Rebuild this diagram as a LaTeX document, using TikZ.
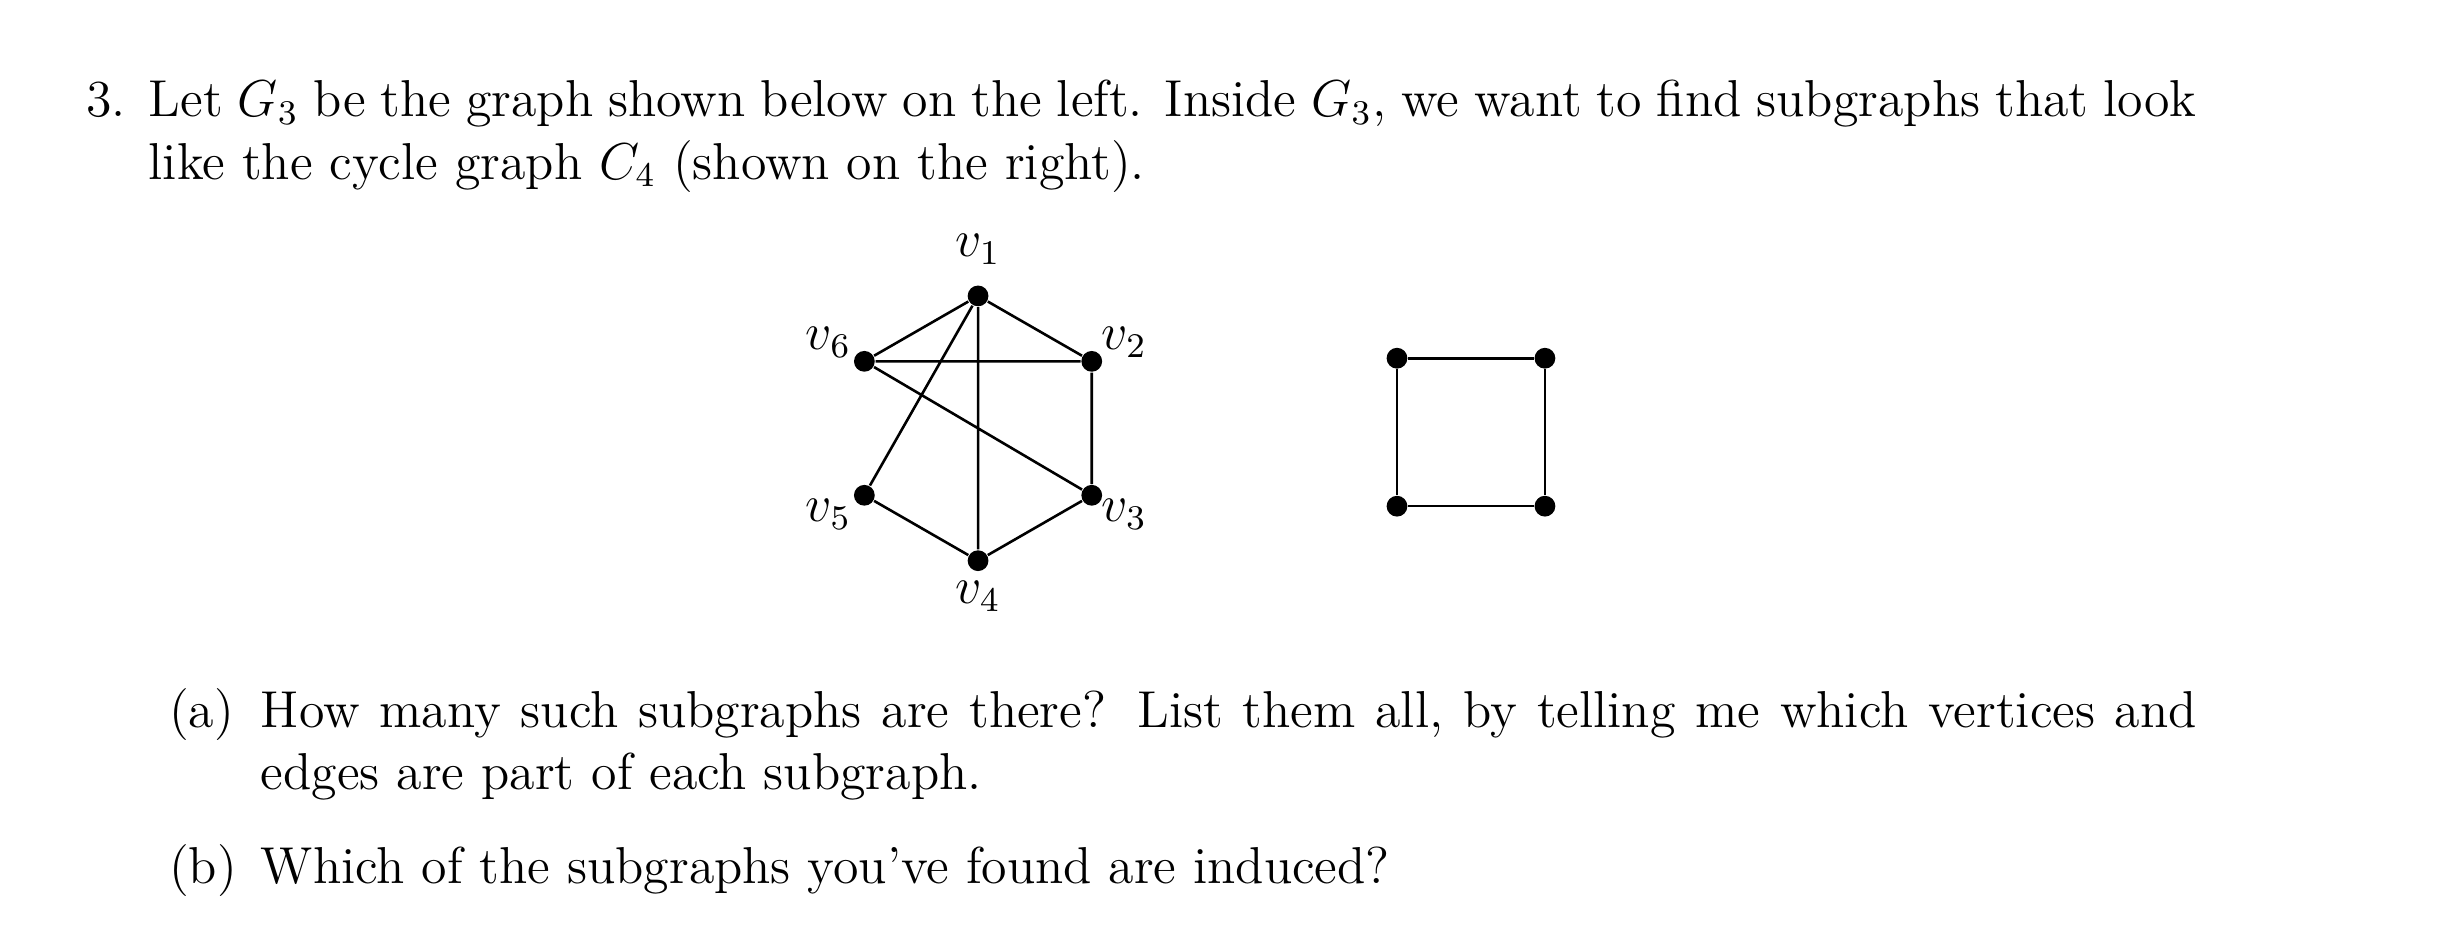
\documentclass[tikz,border=0pt,12pt]{standalone}
\begin{document}
\begin{tikzpicture}[x=0.36pt,y=-0.36pt,
  vtx/.style={circle,fill=black,inner sep=0pt,minimum size=4.8pt},
  edge/.style={line width=0.6pt},
  txt/.style={anchor=base west,inner sep=0pt}]
\useasboundingbox (0,0) rectangle (1568,598);
\node[txt] (n3) at (55,75) {3.};
\node[txt] (l1) at (95,75) {\makebox[473.4pt][s]{Let $G_3$ be the graph shown below on the left. Inside $G_3$, we want to find subgraphs that look}};
\node[txt] (l2) at (95,115) {like the cycle graph $C_4$ (shown on the right).};
\node[vtx] (v1) at (628,190) {};
\node[vtx] (v2) at (701,232) {};
\node[vtx] (v3) at (701,318) {};
\node[vtx] (v4) at (628,360) {};
\node[vtx] (v5) at (555,318) {};
\node[vtx] (v6) at (555,232) {};
\node (t1) at (628,160) {$v_1$};
\node (t2) at (722,220) {$v_2$};
\node (t3) at (722,330) {$v_3$};
\node (t4) at (628,383) {$v_4$};
\node (t5) at (532,330) {$v_5$};
\node (t6) at (532,220) {$v_6$};
\draw[edge] (v1)--(v6) (v1)--(v2) (v1)--(v4) (v1)--(v5) (v6)--(v2) (v6)--(v3) (v2)--(v3) (v3)--(v4) (v4)--(v5);
\node[vtx] (a) at (897,230) {};
\node[vtx] (b) at (992,230) {};
\node[vtx] (c) at (992,325) {};
\node[vtx] (d) at (897,325) {};
\draw[edge] (a)--(b)--(c)--(d)--(a);
\node[txt] (pa) at (108,467) {(a)};
\node[txt] (a1) at (167,467) {\makebox[447.5pt][s]{How many such subgraphs are there? List them all, by telling me which vertices and}};
\node[txt] (a2) at (167,507) {edges are part of each subgraph.};
\node[txt] (pb) at (108,567) {(b)};
\node[txt] (b1) at (167,567) {Which of the subgraphs you've found are induced?};
\end{tikzpicture}
\end{document}
